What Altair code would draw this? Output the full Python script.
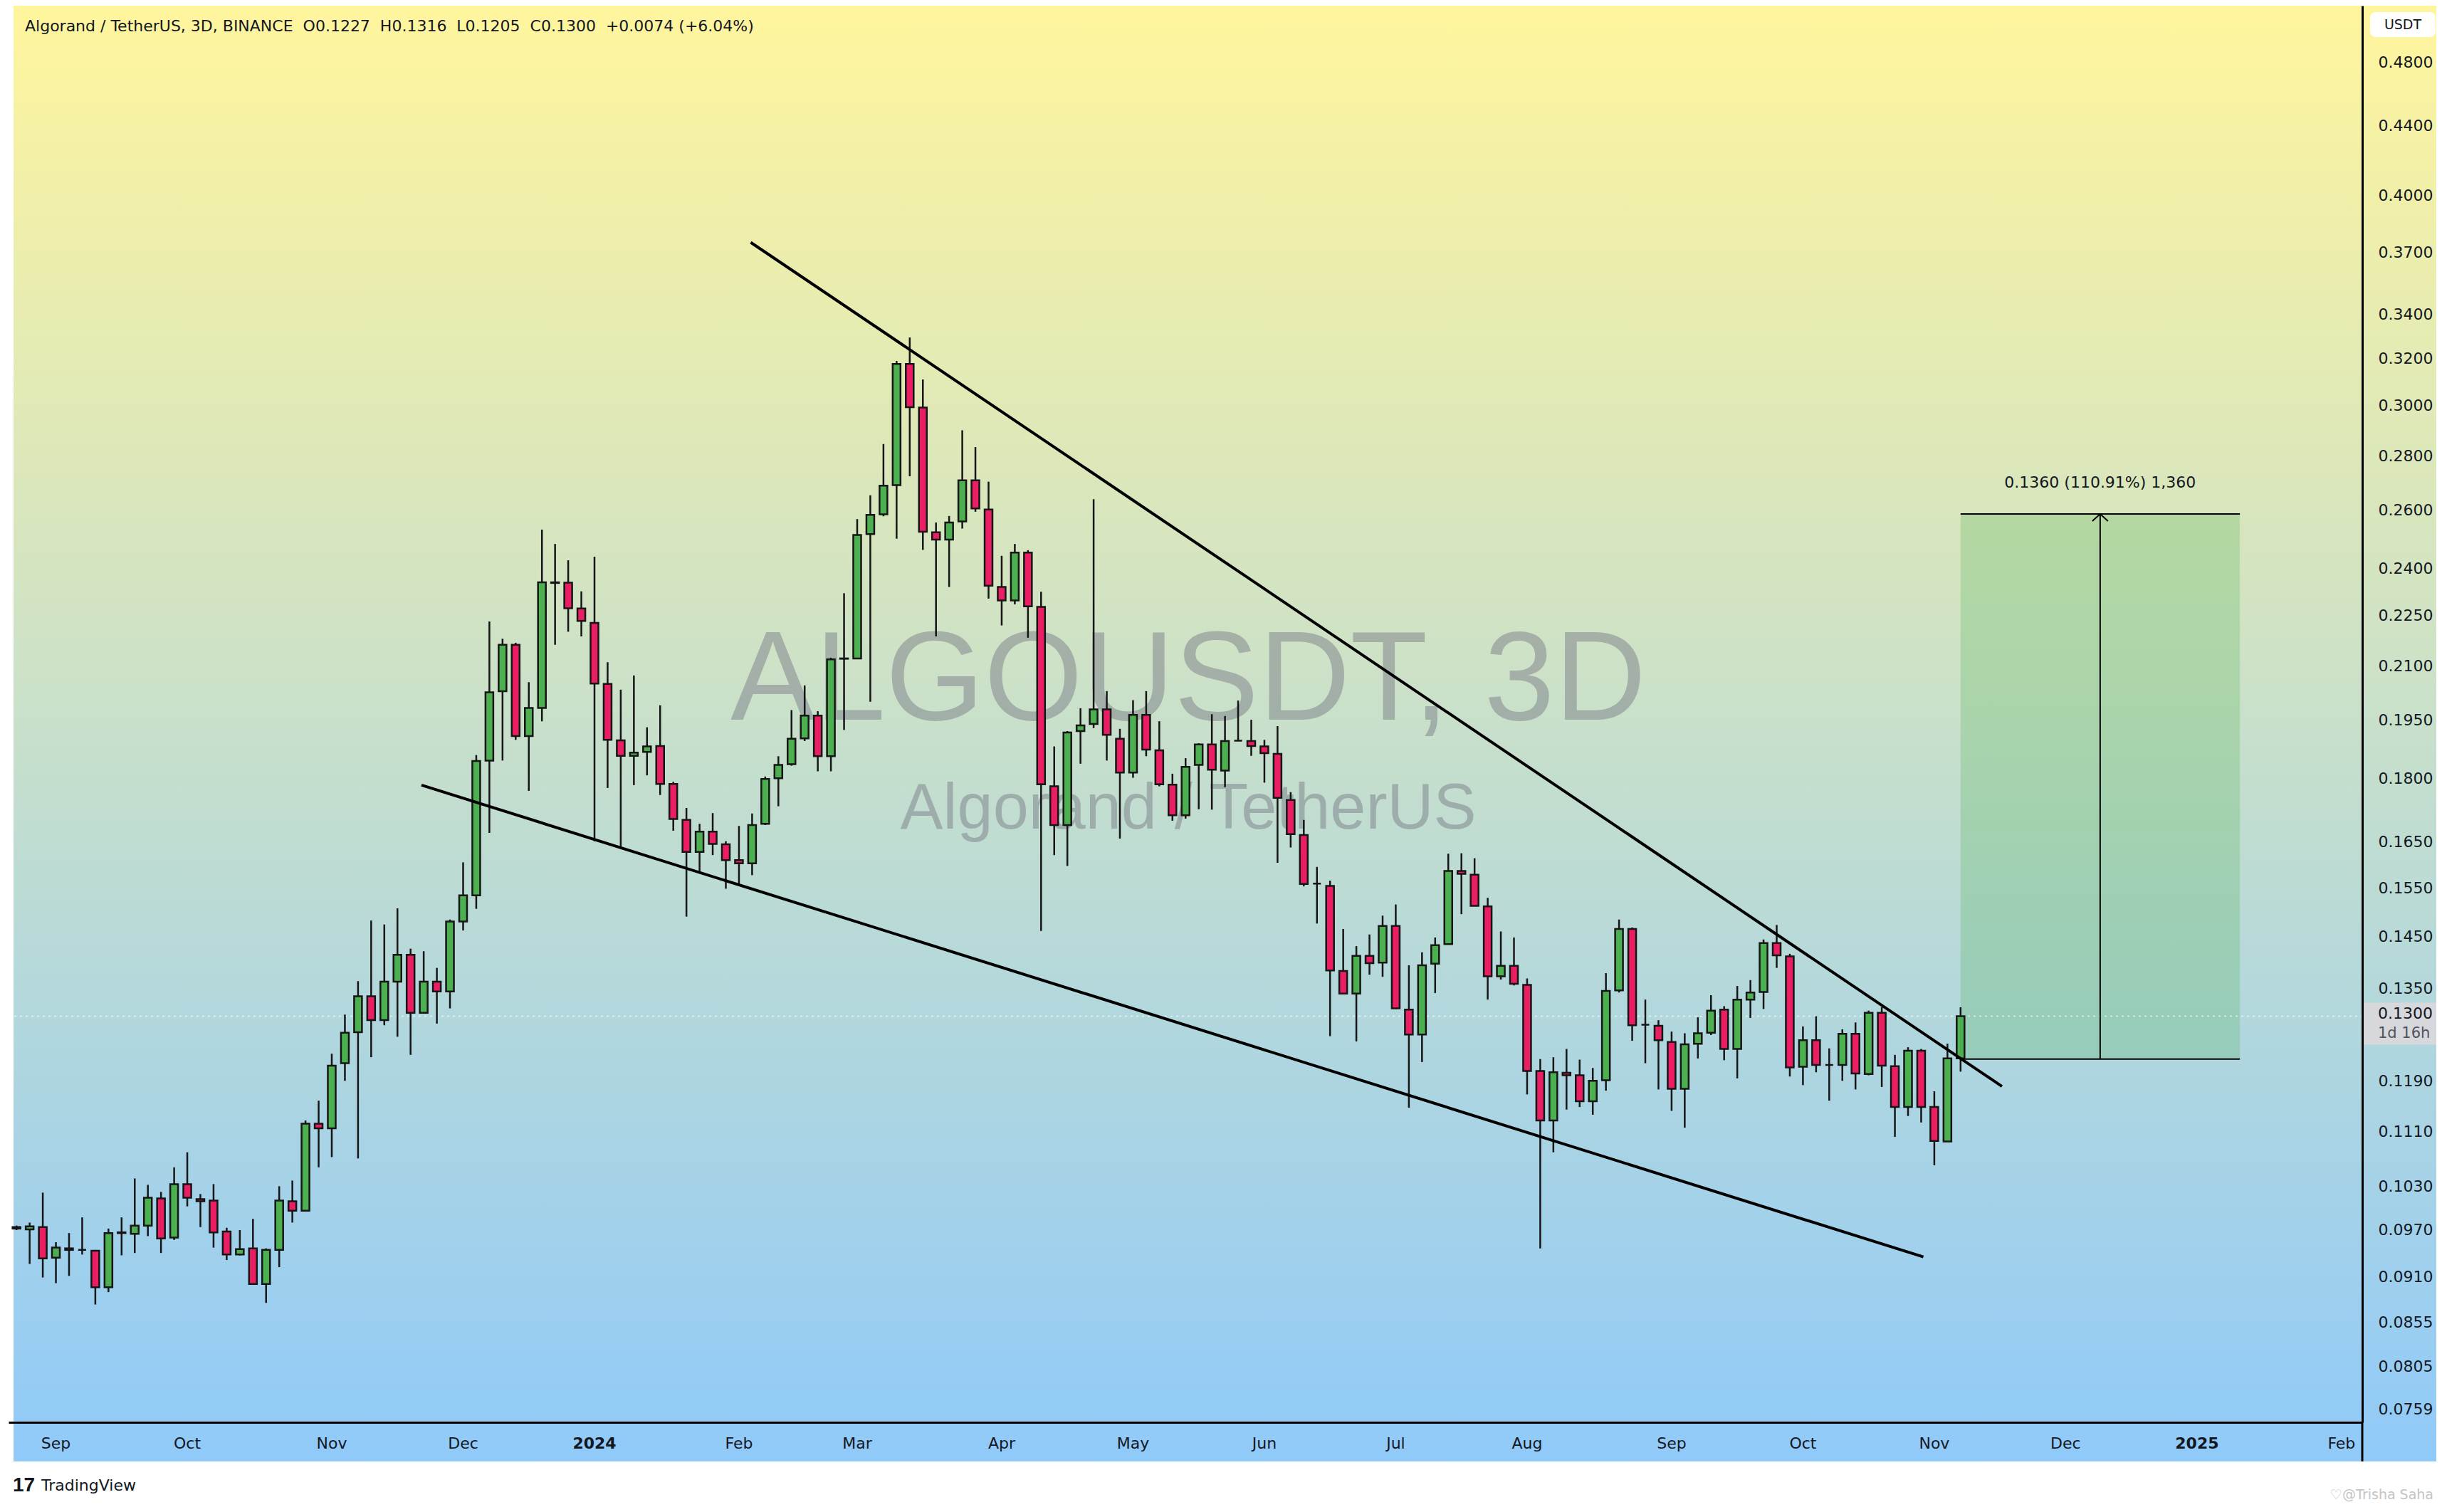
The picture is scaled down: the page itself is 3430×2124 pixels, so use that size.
import altair as alt
import numpy as np
import pandas as pd

# ---------------- data ----------------
FIRST_BAR = "2023-08-22"          # first (partially visible) 3D candle
BAR_STEP = "3D"

opens = [0.0974, 0.0971, 0.0974, 0.0934, 0.0946, 0.0944, 0.0943, 0.0897, 0.0967, 0.0965,
         0.0976, 0.1013, 0.0960, 0.1033, 0.1012, 0.1010, 0.0968, 0.0938, 0.0946, 0.0901,
         0.0944, 0.1009, 0.0996, 0.1122, 0.1115, 0.1219, 0.1272, 0.1336, 0.1293, 0.1363,
         0.1414, 0.1306, 0.1363, 0.1345, 0.1480, 0.1534, 0.1845, 0.2029, 0.2162, 0.1908,
         0.1983, 0.2355, 0.2354, 0.2272, 0.2228, 0.2049, 0.1897, 0.1857, 0.1867, 0.1882,
         0.1787, 0.1701, 0.1628, 0.1674, 0.1645, 0.1610, 0.1603, 0.1692, 0.1801, 0.1836,
         0.1902, 0.1962, 0.1856, 0.2121, 0.2122, 0.2516, 0.2585, 0.2690, 0.3176, 0.2992,
         0.2522, 0.2497, 0.2560, 0.2708, 0.2602, 0.2340, 0.2297, 0.2453, 0.2277, 0.1781,
         0.1689, 0.1921, 0.1940, 0.1979, 0.1901, 0.1815, 0.1964, 0.1871, 0.1785, 0.1712,
         0.1834, 0.1886, 0.1820, 0.1896, 0.1895, 0.1881, 0.1862, 0.1748, 0.1666, 0.1559,
         0.1554, 0.1383, 0.1341, 0.1412, 0.1399, 0.1471, 0.1312, 0.1268, 0.1397, 0.1435,
         0.1586, 0.1578, 0.1511, 0.1373, 0.1393, 0.1357, 0.1206, 0.1127, 0.1203, 0.1199,
         0.1157, 0.1191, 0.1347, 0.1465, 0.1285, 0.1283, 0.1255, 0.1177, 0.1252, 0.1271,
         0.1312, 0.1243, 0.1330, 0.1344, 0.1437, 0.1411, 0.1213, 0.1258, 0.1216, 0.1216,
         0.1269, 0.1201, 0.1306, 0.1214, 0.1148, 0.1240, 0.1148, 0.1095, 0.1227]
highs = [0.0976, 0.0980, 0.1021, 0.0954, 0.0966, 0.0987, 0.0944, 0.0972, 0.0987, 0.1041,
         0.1032, 0.1022, 0.1057, 0.1079, 0.1019, 0.1033, 0.0973, 0.0970, 0.0985, 0.0946,
         0.1030, 0.1038, 0.1127, 0.1158, 0.1235, 0.1303, 0.1364, 0.1482, 0.1474, 0.1507,
         0.1426, 0.1421, 0.1389, 0.1484, 0.1605, 0.1859, 0.2232, 0.2180, 0.2168, 0.2054,
         0.2531, 0.2482, 0.2427, 0.2326, 0.2439, 0.2111, 0.2033, 0.2073, 0.1931, 0.1990,
         0.1792, 0.1729, 0.1692, 0.1717, 0.1652, 0.1687, 0.1716, 0.1805, 0.1856, 0.1977,
         0.2045, 0.1974, 0.2124, 0.2320, 0.2568, 0.2653, 0.2846, 0.3189, 0.3293, 0.3109,
         0.2556, 0.2579, 0.2900, 0.2834, 0.2703, 0.2442, 0.2482, 0.2461, 0.2325, 0.1881,
         0.1921, 0.1982, 0.2639, 0.2029, 0.1927, 0.2004, 0.2029, 0.1947, 0.1812, 0.1851,
         0.1889, 0.1966, 0.1961, 0.2003, 0.1951, 0.1898, 0.1934, 0.1767, 0.1701, 0.1595,
         0.1565, 0.1465, 0.1431, 0.1454, 0.1492, 0.1515, 0.1394, 0.1419, 0.1448, 0.1624,
         0.1625, 0.1614, 0.1529, 0.1460, 0.1448, 0.1369, 0.1226, 0.1229, 0.1243, 0.1225,
         0.1211, 0.1379, 0.1484, 0.1468, 0.1330, 0.1293, 0.1273, 0.1270, 0.1298, 0.1338,
         0.1318, 0.1355, 0.1366, 0.1444, 0.1473, 0.1416, 0.1282, 0.1300, 0.1244, 0.1277,
         0.1289, 0.1310, 0.1316, 0.1233, 0.1246, 0.1243, 0.1173, 0.1252, 0.1316]
lows = [0.0970, 0.0926, 0.0909, 0.0902, 0.0911, 0.0938, 0.0876, 0.0891, 0.0937, 0.0940,
        0.0962, 0.0940, 0.0957, 0.1002, 0.0974, 0.0947, 0.0931, 0.0937, 0.0900, 0.0878,
        0.0922, 0.0980, 0.0995, 0.1057, 0.1072, 0.1190, 0.1070, 0.1229, 0.1284, 0.1264,
        0.1233, 0.1305, 0.1287, 0.1314, 0.1462, 0.1506, 0.1671, 0.1845, 0.1898, 0.1770,
        0.1947, 0.2162, 0.2201, 0.2187, 0.1652, 0.1777, 0.1638, 0.1784, 0.1808, 0.1760,
        0.1676, 0.1490, 0.1585, 0.1621, 0.1548, 0.1558, 0.1577, 0.1689, 0.1733, 0.1832,
        0.1895, 0.1818, 0.1818, 0.1924, 0.2122, 0.2000, 0.2578, 0.2500, 0.2723, 0.2462,
        0.2187, 0.2340, 0.2535, 0.2594, 0.2303, 0.2220, 0.2285, 0.2183, 0.1461, 0.1621,
        0.1597, 0.1837, 0.1929, 0.1845, 0.1658, 0.1802, 0.1856, 0.1781, 0.1699, 0.1704,
        0.1726, 0.1725, 0.1779, 0.1895, 0.1857, 0.1790, 0.1604, 0.1638, 0.1553, 0.1476,
        0.1265, 0.1340, 0.1256, 0.1376, 0.1372, 0.1313, 0.1147, 0.1221, 0.1342, 0.1435,
        0.1495, 0.1512, 0.1330, 0.1367, 0.1356, 0.1168, 0.0946, 0.1079, 0.1144, 0.1148,
        0.1136, 0.1174, 0.1343, 0.1257, 0.1219, 0.1176, 0.1142, 0.1116, 0.1227, 0.1267,
        0.1224, 0.1194, 0.1297, 0.1313, 0.1389, 0.1197, 0.1183, 0.1204, 0.1158, 0.1190,
        0.1176, 0.1199, 0.1180, 0.1102, 0.1134, 0.1124, 0.1060, 0.1095, 0.1205]
closes = [0.0972, 0.0975, 0.0933, 0.0947, 0.0944, 0.0944, 0.0897, 0.0966, 0.0966, 0.0976,
          0.1014, 0.0959, 0.1033, 0.1014, 0.1009, 0.0967, 0.0938, 0.0945, 0.0901, 0.0944,
          0.1010, 0.0996, 0.1122, 0.1115, 0.1215, 0.1271, 0.1336, 0.1293, 0.1363, 0.1414,
          0.1306, 0.1363, 0.1345, 0.1480, 0.1534, 0.1844, 0.2026, 0.2162, 0.1908, 0.1983,
          0.2355, 0.2353, 0.2273, 0.2234, 0.2050, 0.1898, 0.1857, 0.1865, 0.1881, 0.1787,
          0.1703, 0.1628, 0.1674, 0.1646, 0.1610, 0.1603, 0.1689, 0.1799, 0.1834, 0.1901,
          0.1962, 0.1856, 0.2119, 0.2122, 0.2513, 0.2583, 0.2688, 0.3176, 0.2993, 0.2524,
          0.2497, 0.2556, 0.2708, 0.2606, 0.2344, 0.2297, 0.2453, 0.2279, 0.1786, 0.1689,
          0.1917, 0.1936, 0.1979, 0.1911, 0.1815, 0.1964, 0.1873, 0.1786, 0.1712, 0.1829,
          0.1886, 0.1822, 0.1895, 0.1896, 0.1882, 0.1864, 0.1753, 0.1668, 0.1558, 0.1559,
          0.1384, 0.1341, 0.1412, 0.1398, 0.1471, 0.1314, 0.1268, 0.1394, 0.1433, 0.1586,
          0.1580, 0.1512, 0.1373, 0.1393, 0.1359, 0.1206, 0.1127, 0.1204, 0.1199, 0.1157,
          0.1190, 0.1346, 0.1465, 0.1284, 0.1285, 0.1258, 0.1177, 0.1251, 0.1270, 0.1310,
          0.1243, 0.1330, 0.1343, 0.1437, 0.1413, 0.1212, 0.1258, 0.1216, 0.1216, 0.1269,
          0.1202, 0.1306, 0.1215, 0.1148, 0.1240, 0.1148, 0.1096, 0.1227, 0.1300]

month_labels = ["Sep", "Oct", "Nov", "Dec", "2024", "Feb", "Mar", "Apr", "May", "Jun",
                "Jul", "Aug", "Sep", "Oct", "Nov", "Dec", "2025", "Feb"]
month_label_dates = ["2023-08-31", "2023-09-30", "2023-11-02", "2023-12-02", "2024-01-01",
                     "2024-02-03", "2024-03-01", "2024-04-03", "2024-05-03", "2024-06-02",
                     "2024-07-02", "2024-08-01", "2024-09-03", "2024-10-03", "2024-11-02",
                     "2024-12-02", "2025-01-01", "2025-02-03"]

price_ticks = [0.4800, 0.4400, 0.4000, 0.3700, 0.3400, 0.3200, 0.3000, 0.2800, 0.2600,
               0.2400, 0.2250, 0.2100, 0.1950, 0.1800, 0.1650, 0.1550, 0.1450, 0.1350,
               0.1190, 0.1110, 0.1030, 0.0970, 0.0910, 0.0855, 0.0805, 0.0759]

trend_names = ["upper", "upper", "lower", "lower"]
trend_dates = ["2024-02-05T16:19:00Z", "2024-11-17T10:48:00Z",
               "2023-11-22T11:45:00Z", "2024-10-30T12:00:00Z"]
trend_prices = [0.3751, 0.1181, 0.1784, 0.0935]

target_start = "2024-11-08"
target_end = "2025-01-10T19:00:00Z"
target_arrow = "2024-12-09T21:00:00Z"
target_low = 0.1226
target_high = 0.2586
target_text = "0.1360 (110.91%) 1,360"

last_price = 0.1300
last_price_text = "0.1300"
countdown_text = "1d 16h"
header_text = ("Algorand / TetherUS, 3D, BINANCE\u00a0\u00a0O0.1227\u00a0\u00a0H0.1316\u00a0\u00a0"
               "L0.1205\u00a0\u00a0C0.1300\u00a0\u00a0+0.0074 (+6.04%)")

x_domain = ["2023-08-20T04:19:00Z", "2025-02-07T17:45:00Z"]
y_domain = [0.07455, 0.5187]

# ---------------- build ----------------
W, H = 3306, 1990
FONT = "DejaVu Sans"
INK = "#131722"


def ms(s):
    return int(pd.Timestamp(s).value // 10**6)


dates = pd.date_range(FIRST_BAR, periods=len(opens), freq=BAR_STEP)
candles = pd.DataFrame({
    "t": [int(d.value // 10**6) for d in dates],
    "open": opens, "high": highs, "low": lows, "close": closes,
})
candles["dir"] = np.where(candles["close"] >= candles["open"], "up", "down")

trend = pd.DataFrame({"name": trend_names, "t": [ms(d) for d in trend_dates], "p": trend_prices})
target = pd.DataFrame({"s": [ms(target_start)], "e": [ms(target_end)], "a": [ms(target_arrow)],
                       "lo": [target_low], "hi": [target_high], "label": [target_text]})
target_edges = pd.DataFrame({"s": [ms(target_start)] * 2, "e": [ms(target_end)] * 2,
                             "p": [target_low, target_high]})
months = pd.DataFrame({"t": [ms(d) for d in month_label_dates], "label": month_labels})
lastp = pd.DataFrame({"p": [last_price]})
one = pd.DataFrame({"k": [0]})

XS = alt.Scale(type="utc", domain=[ms(d) for d in x_domain], padding=0)
YS = alt.Scale(type="log", domain=y_domain, nice=False, zero=False, padding=0)
XAX = alt.Axis(labels=False, ticks=False, grid=False, title=None,
               domainColor="#000000", domainWidth=3, zindex=2)
YAX = alt.Axis(orient="right", values=price_ticks, format=".4f", labelFont=FONT,
               labelFontSize=22, labelColor=INK, labelPadding=22, ticks=False, grid=False,
               title=None, domainColor="#000000", domainWidth=3, labelOverlap=False,
               labelFlush=False, zindex=2)


def X(f):
    return alt.X(f"{f}:T", scale=XS, axis=XAX)


def Y(f):
    return alt.Y(f"{f}:Q", scale=YS, axis=YAX)


grad = alt.LinearGradient(gradient="linear",
                          stops=[alt.GradientStop(color="#FFF59D", offset=0),
                                 alt.GradientStop(color="#90CAF9", offset=1)],
                          x1=0, x2=0, y1=0, y2=1)

bg = alt.Chart(one).mark_rect(fill=grad).encode(
    x=alt.value(7), x2=alt.value(W + 104), y=alt.value(0), y2=alt.value(H + 55))

wm1 = alt.Chart(one).mark_text(text="ALGOUSDT, 3D", font="Liberation Sans", fontSize=178,
                               color="#787B86", opacity=0.48, align="center",
                               baseline="alphabetic").encode(x=alt.value(1657), y=alt.value(1003))
wm2 = alt.Chart(one).mark_text(text="Algorand / TetherUS", font="Liberation Sans", fontSize=90,
                               color="#787B86", opacity=0.48, align="center",
                               baseline="alphabetic").encode(x=alt.value(1657), y=alt.value(1156))

target_rect = alt.Chart(target).mark_rect(fill="#4CAF50", opacity=0.25).encode(
    x=X("s"), x2="e:T", y=Y("lo"), y2="hi:Q")

price_line = alt.Chart(lastp).mark_rule(color="#FFFFFF", opacity=0.7, strokeWidth=1.5,
                                        strokeDash=[3, 5]).encode(
    y=Y("p"), x=alt.value(0), x2=alt.value(W))

wicks = alt.Chart(candles).mark_rule(color="#161616", strokeWidth=2.5, clip=True).encode(
    x=X("t"), y=Y("low"), y2="high:Q")

bodies = alt.Chart(candles).mark_bar(size=11, stroke="#161616", strokeWidth=2.5, clip=True,
                                     opacity=1).encode(
    x=X("t"), y=Y("open"), y2="close:Q",
    color=alt.Color("dir:N", scale=alt.Scale(domain=["up", "down"],
                                             range=["#4CAF50", "#E91E63"]), legend=None))

lines = alt.Chart(trend).mark_line(color="#000000", strokeWidth=4).encode(
    x=X("t"), y=Y("p"), detail="name:N")

edges = alt.Chart(target_edges).mark_rule(color="#000000", strokeWidth=2).encode(
    x=X("s"), x2="e:T", y=Y("p"))

arrow = alt.Chart(target).mark_rule(color="#000000", strokeWidth=2).encode(
    x=X("a"), y=Y("lo"), y2="hi:Q")

arrow_head = alt.Chart(target).mark_point(shape="M-1,0.9L0,0L1,0.9", filled=False, size=484,
                                          stroke="#000000", strokeWidth=2, opacity=1).encode(
    x=X("a"), y=Y("hi"))

target_label = alt.Chart(target).mark_text(font=FONT, fontSize=22, color=INK, dy=-44,
                                           align="center", baseline="middle").encode(
    x=X("a"), y=Y("hi"), text="label:N")

axis_ext = alt.Chart(one).mark_rule(color="#000000", strokeWidth=3).encode(
    x=alt.value(W), y=alt.value(H), y2=alt.value(H + 55))

usdt_box = alt.Chart(one).mark_rect(fill="#FFFFFF", cornerRadius=8).encode(
    x=alt.value(W + 11), x2=alt.value(W + 103), y=alt.value(9), y2=alt.value(44))
usdt_txt = alt.Chart(one).mark_text(text="USDT", font=FONT, fontSize=19, color=INK,
                                    align="center", baseline="middle").encode(
    x=alt.value(W + 57), y=alt.value(27))

lp_box = alt.Chart(lastp).mark_rect(fill="#D7D8DC", yOffset=-19, y2Offset=40).encode(
    x=alt.value(W + 2), x2=alt.value(W + 104), y=Y("p"), y2="p:Q")
lp_txt = alt.Chart(lastp).mark_text(text=last_price_text, font=FONT, fontSize=22, color=INK,
                                    align="left", baseline="middle", dy=-4).encode(
    x=alt.value(W + 22), y=Y("p"))
lp_cd = alt.Chart(lastp).mark_text(text=countdown_text, font=FONT, fontSize=21, color="#50535E",
                                   align="left", baseline="middle", dy=24).encode(
    x=alt.value(W + 22), y=Y("p"))

header = alt.Chart(one).mark_text(text=header_text, font=FONT, fontSize=22, color=INK,
                                  align="left", baseline="middle").encode(
    x=alt.value(23), y=alt.value(29))

m_norm = alt.Chart(months).transform_filter("length(datum.label) != 4").mark_text(
    font=FONT, fontSize=22, color=INK, align="center", baseline="middle").encode(
    x=X("t"), y=alt.value(H + 30), text="label:N")
m_bold = alt.Chart(months).transform_filter("length(datum.label) == 4").mark_text(
    font=FONT, fontSize=22, fontWeight="bold", color=INK, align="center",
    baseline="middle").encode(x=X("t"), y=alt.value(H + 30), text="label:N")

tv_logo = alt.Chart(one).mark_text(text="17", font="Liberation Sans", fontSize=28,
                                   fontWeight="bold", color=INK, align="left",
                                   baseline="middle").encode(x=alt.value(6), y=alt.value(2079))
tv_txt = alt.Chart(one).mark_text(text="TradingView", font=FONT, fontSize=22, color=INK,
                                  align="left", baseline="middle").encode(
    x=alt.value(46), y=alt.value(2079))
credit = alt.Chart(one).mark_text(text="\u2661@Trisha Saha", font=FONT, fontSize=19,
                                  color="#C4C4C4", align="right", baseline="middle").encode(
    x=alt.value(W + 100), y=alt.value(2092))

chart = alt.layer(
    bg, wm1, wm2, target_rect, price_line, wicks, bodies, lines, edges, arrow, arrow_head,
    target_label, axis_ext, usdt_box, usdt_txt, lp_box, lp_txt, lp_cd, header,
    m_norm, m_bold, tv_logo, tv_txt, credit
).properties(
    width=W, height=H,
    autosize=alt.AutoSizeParams(type="none"),
    padding={"left": 4, "top": 0, "right": 104, "bottom": 118},
    background="#FFFFFF",
).configure_view(stroke=None)

chart.save("out.html", embed_options={"renderer": "svg", "actions": False})
